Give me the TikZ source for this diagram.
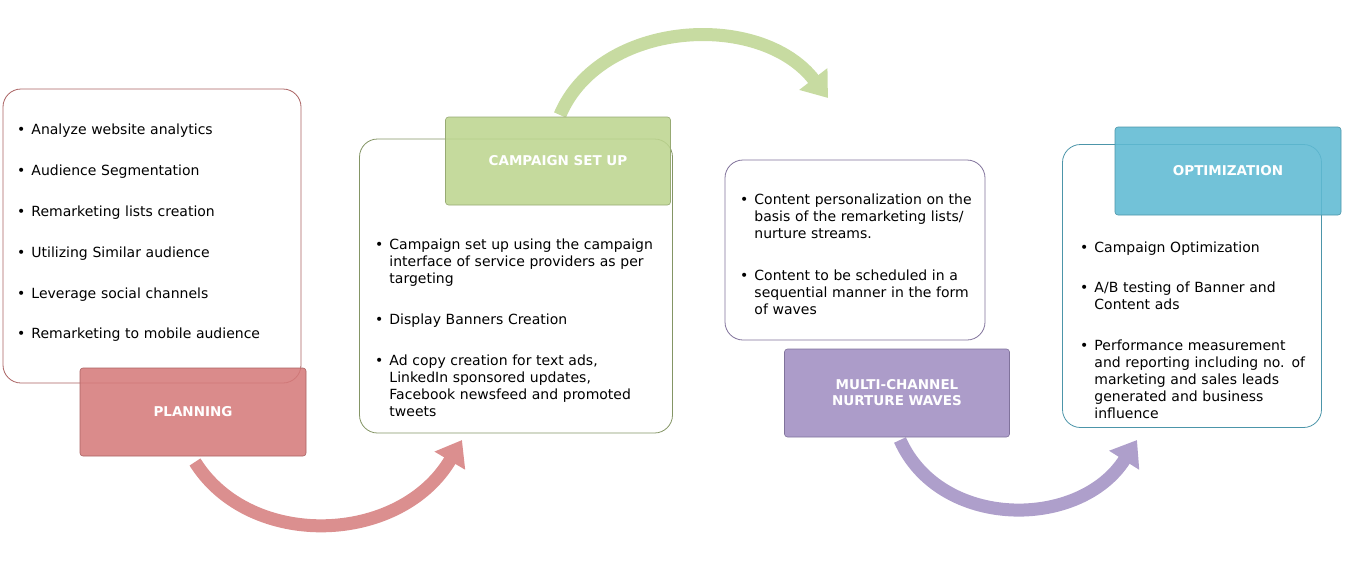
\documentclass[tikz,border=0pt]{standalone}
\usepackage{fontspec}
\setmainfont{DejaVu Sans}
\usetikzlibrary{arrows.meta}
\begin{document}
\begin{tikzpicture}[x=1pt,y=-1pt,
  tbox/.style={draw=#1,line width=0.8pt,rounded corners=18pt,fill=white},
  lbox/.style={draw=#1!80!black,line width=0.6pt,rounded corners=3pt,fill=#1,fill opacity=0.88,text opacity=1,text=white,font=\bfseries\fontsize{13.5}{16}\selectfont,align=center},
  item/.style={anchor=north west,text width=#1,align=left,font=\fontsize{14}{17}\selectfont,inner sep=0pt},
  flow/.style={line width=13pt,draw=#1,-{Triangle[width=34pt,length=24pt]}}]
\useasboundingbox (0,0) rectangle (1350,573);
\definecolor{pr}{HTML}{D57B7B}\definecolor{pg}{HTML}{BDD590}
\definecolor{pp}{HTML}{A08EC2}\definecolor{pb}{HTML}{5FBAD3}
\newcommand{\bul}[2]{\textbullet\hspace{6pt}\parbox[t]{#1}{\raggedright\hyphenpenalty=10000 #2}}
% arrows
\coordinate (r1) at (195,462); \coordinate (r2) at (462,440);
\draw[flow=pr!85] (r1) .. controls (250,550) and (400,545) .. (r2);
\coordinate (g1) at (560,115); \coordinate (g2) at (828,98);
\draw[flow=pg!85] (g1) .. controls (600,20) and (760,10) .. (g2);
\coordinate (p1) at (900,440); \coordinate (p2) at (1137,440);
\draw[flow=pp!85] (p1) .. controls (940,530) and (1080,530) .. (p2);
% planning
\node[tbox=pr!80!black,minimum width=298pt,minimum height=294pt] (tb1) at (152,236) {};
\node[lbox=pr,minimum width=226pt,minimum height=88pt] (l1) at (193,412) {PLANNING};
\foreach \t [count=\i] in {Analyze website analytics,Audience Segmentation,Remarketing lists creation,Utilizing Similar audience,Leverage social channels,Remarketing to mobile audience}
  \node[item=280pt] (p\i) at (17,{124+40.8*(\i-1)}) {\textbullet\hspace{6pt}\t};
% campaign
\node[tbox=pg!70!black,minimum width=313pt,minimum height=294pt] (tb2) at (516,286) {};
\node[lbox=pg,minimum width=225pt,minimum height=88pt] (l2) at (558,161) {CAMPAIGN SET UP};
\node[item=300pt] (c1) at (375,239) {\bul{280pt}{Campaign set up using the campaign interface of service providers as per targeting}};
\node[item=300pt] (c2) at (375,314) {\bul{280pt}{Display Banners Creation}};
\node[item=300pt] (c3) at (375,355) {\bul{260pt}{Ad copy creation for text ads, LinkedIn sponsored updates, Facebook newsfeed and promoted tweets}};
% multi
\node[tbox=pp!80!black,minimum width=260pt,minimum height=180pt] (tb3) at (855,250) {};
\node[lbox=pp,minimum width=225pt,minimum height=88pt] (l3) at (897,393) {MULTI-CHANNEL\\NURTURE WAVES};
\node[item=260pt] (m1) at (740,194) {\bul{232pt}{Content personalization on the basis of the remarketing lists/ nurture streams.}};
\node[item=260pt] (m2) at (740,270) {\bul{232pt}{Content to be scheduled in a sequential manner in the form of waves}};
% optimization
\node[tbox=pb!80!black,minimum width=259pt,minimum height=283pt] (tb4) at (1192,286) {};
\node[lbox=pb,minimum width=226pt,minimum height=88pt] (l4) at (1228,171) {OPTIMIZATION};
\node[item=240pt] (o1) at (1080,242) {\bul{220pt}{Campaign Optimization}};
\node[item=240pt] (o2) at (1080,282) {\bul{200pt}{A/B testing of Banner and Content ads}};
\node[item=240pt] (o3) at (1080,340) {\bul{215pt}{Performance measurement and reporting including no. of marketing and sales leads generated and business influence}};
\end{tikzpicture}
\end{document}
